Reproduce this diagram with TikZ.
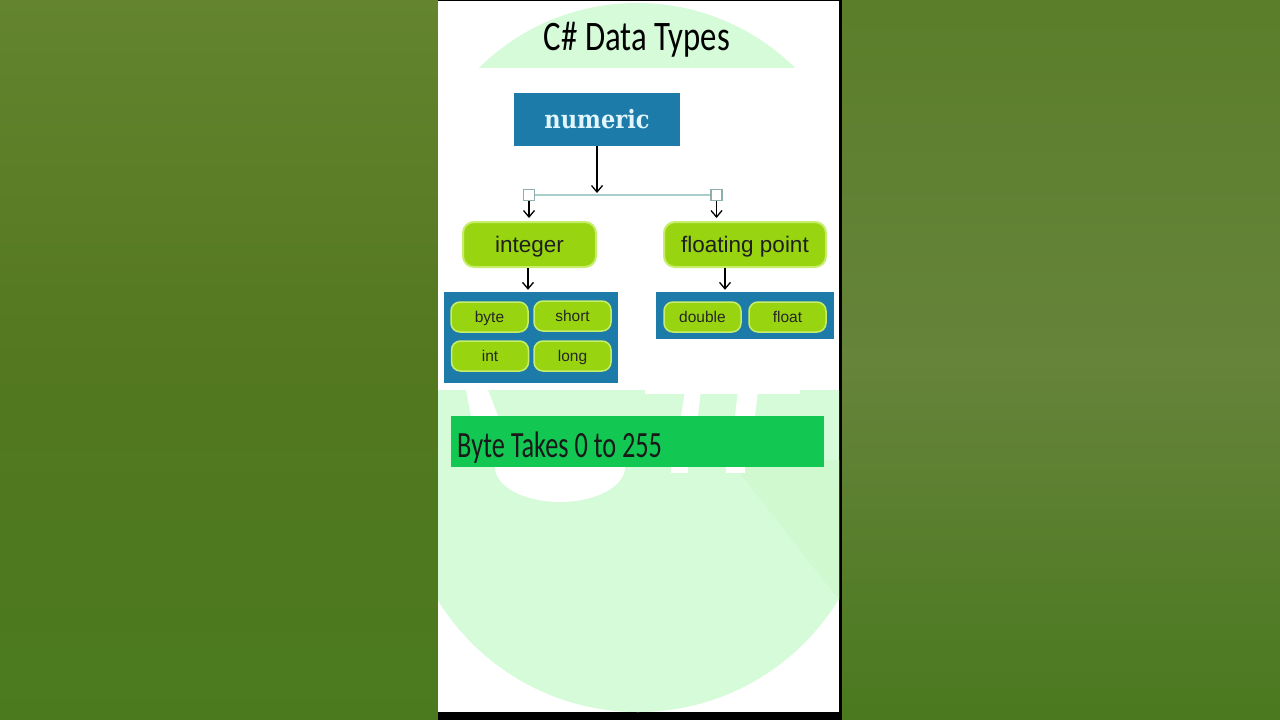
\documentclass[tikz,border=0pt]{standalone}
\usepackage{fontspec}
\setmainfont{Liberation Sans}
\newfontfamily\titlefont{Carlito}
\newfontfamily\numfont{DejaVu Serif}
\usetikzlibrary{arrows.meta}
\definecolor{wm}{HTML}{D6FBD9}
\definecolor{wmdark}{HTML}{D0F9CF}
\definecolor{boxblue}{HTML}{1C7BA9}
\definecolor{pillgreen}{HTML}{98D510}
\definecolor{pilledge}{HTML}{C6EE6C}
\definecolor{bytegreen}{HTML}{12C852}
\definecolor{bgLtop}{HTML}{64842F}
\definecolor{bgLmid}{HTML}{53781F}
\definecolor{bgLbot}{HTML}{4B7A1E}
\definecolor{bgRtop}{HTML}{5A7E2A}
\definecolor{bgRmid}{HTML}{66843A}
\definecolor{bgRbot}{HTML}{4A791F}
\definecolor{junline}{HTML}{A8CFCB}
\definecolor{junedge}{HTML}{8FAFAE}
\tikzset{
  arr/.style={draw=black, line width=1.3pt, -{Straight Barb[length=6.5pt,width=11pt,line width=1.3pt]}},
  bigpill/.style={draw=pilledge, line width=2pt, fill=pillgreen, rounded corners=11pt,
    inner sep=0pt, minimum height=45pt, font=\fontsize{22.5}{24}\selectfont, text=black!88,
    text height=17pt, text depth=2pt},
  pill/.style={draw=pilledge, line width=1.5pt, fill=pillgreen, rounded corners=9pt,
    inner sep=0pt, minimum width=77pt, minimum height=30pt, font=\fontsize{15.5}{17}\selectfont,
    text=black!85, text height=11pt, text depth=1pt},
  container/.style={fill=boxblue, inner sep=0pt},
  junction/.style={draw=junedge, fill=white, line width=1.1pt, minimum size=11pt, inner sep=0pt},
}
\begin{document}
\begin{tikzpicture}[x=1pt,y=-1pt]
\useasboundingbox (0,0) rectangle (1280,720);
% outer green background
\shade[top color=bgLtop, bottom color=bgLbot, middle color=bgLmid] (0,0) rectangle (438,720);
\shade[top color=bgRtop, bottom color=bgRbot, middle color=bgRmid] (842,0) rectangle (1280,720);
% panel
\fill[white] (438,0) rectangle (839,712);
\fill[black] (839,0) rectangle (842,720);
\fill[black] (438,712) rectangle (842,720);
\fill[black] (438,0) rectangle (840,1.2);
% watermark
\begin{scope}
  \clip (438,0) rectangle (839,67);
  \fill[wm] (637,228) circle[radius=225pt];
\end{scope}
\begin{scope}
  \clip (438,390) rectangle (839,712);
  \fill[wm] (638,477) circle[radius=235pt];
  \fill[wmdark] (730,460) -- (839,460) -- (839,600) -- cycle;
  \fill[white] (466,390) -- (488,390) -- (498,416) -- (471,416) -- cycle;
  \fill[white] (685,390) -- (701,390) -- (698,416) -- (681,416) -- cycle;
  \fill[white] (738,390) -- (758,390) -- (755,416) -- (735,416) -- cycle;
  \fill[white] (645,390) rectangle (800,394);
  \fill[white] (495,467) arc[start angle=180, end angle=360, x radius=65pt, y radius=35pt] -- cycle;
  \fill[white] (671,467) rectangle (688,473);
  \fill[white] (726,467) rectangle (745,473);
\end{scope}
% title
\node[anchor=base, font=\titlefont\fontsize{42}{44}\selectfont, inner sep=0pt] (title) at (637,50)
  {\scalebox{0.78}[1]{C\# Data Types}};
% numeric
\node[fill=boxblue, minimum width=166pt, minimum height=53pt, inner sep=0pt,
  font=\numfont\bfseries\fontsize{23}{25}\selectfont, text=white!88!cyan, text height=17pt, text depth=0pt]
  (numeric) at (597,119.5) {\scalebox{0.98}[1.1]{numeric}};
% junction
\node[junction] (sqL) at (529,195) {};
\node[junction] (sqR) at (716.5,195) {};
\draw[draw=junline, line width=1.6pt] (sqL.east) -- (sqR.west);
\coordinate (hub) at (597,193);
\draw[arr] (numeric.south) -- (hub);
% second level
\node[bigpill, minimum width=133pt] (integer) at (529.5,244.5) {integer};
\node[bigpill, minimum width=162pt] (fp) at (745,244.5) {floating point};
\draw[arr, shorten >=3pt] (sqL.south) -- (sqL.south |- integer.north);
\draw[arr, shorten >=3pt] (sqR.south) -- (sqR.south |- fp.north);
% containers
\node[container, minimum width=174pt, minimum height=91pt] (boxL) at (531,337.5) {};
\node[container, minimum width=178pt, minimum height=47pt] (boxR) at (745,315.5) {};
\draw[arr, shorten >=2pt] ([xshift=-1.5pt]integer.south) -- ([xshift=-1.5pt]integer.south |- boxL.north);
\draw[arr, shorten >=2pt] ([xshift=-20pt]fp.south) -- ([xshift=-20pt]fp.south |- boxR.north);
% pills
\node[pill] (byte) at (489.5,317) {byte};
\node[pill] (short) at (572.5,316) {short};
\node[pill] (int) at (490,356) {int};
\node[pill] (long) at (572.5,356) {long};
\node[pill] (double) at (702.5,317) {double};
\node[pill] (float) at (787.5,317) {float};
% byte info
\node[fill=bytegreen, minimum width=373pt, minimum height=51pt, inner sep=0pt] (bytebox) at (637.5,441.5) {};
\node[anchor=base west, inner sep=0pt, font=\titlefont\fontsize{37}{39}\selectfont, text=black!90] (bytetext)
  at (457,457) {\scalebox{0.71}[1]{Byte Takes 0 to 255}};
\end{tikzpicture}
\end{document}
